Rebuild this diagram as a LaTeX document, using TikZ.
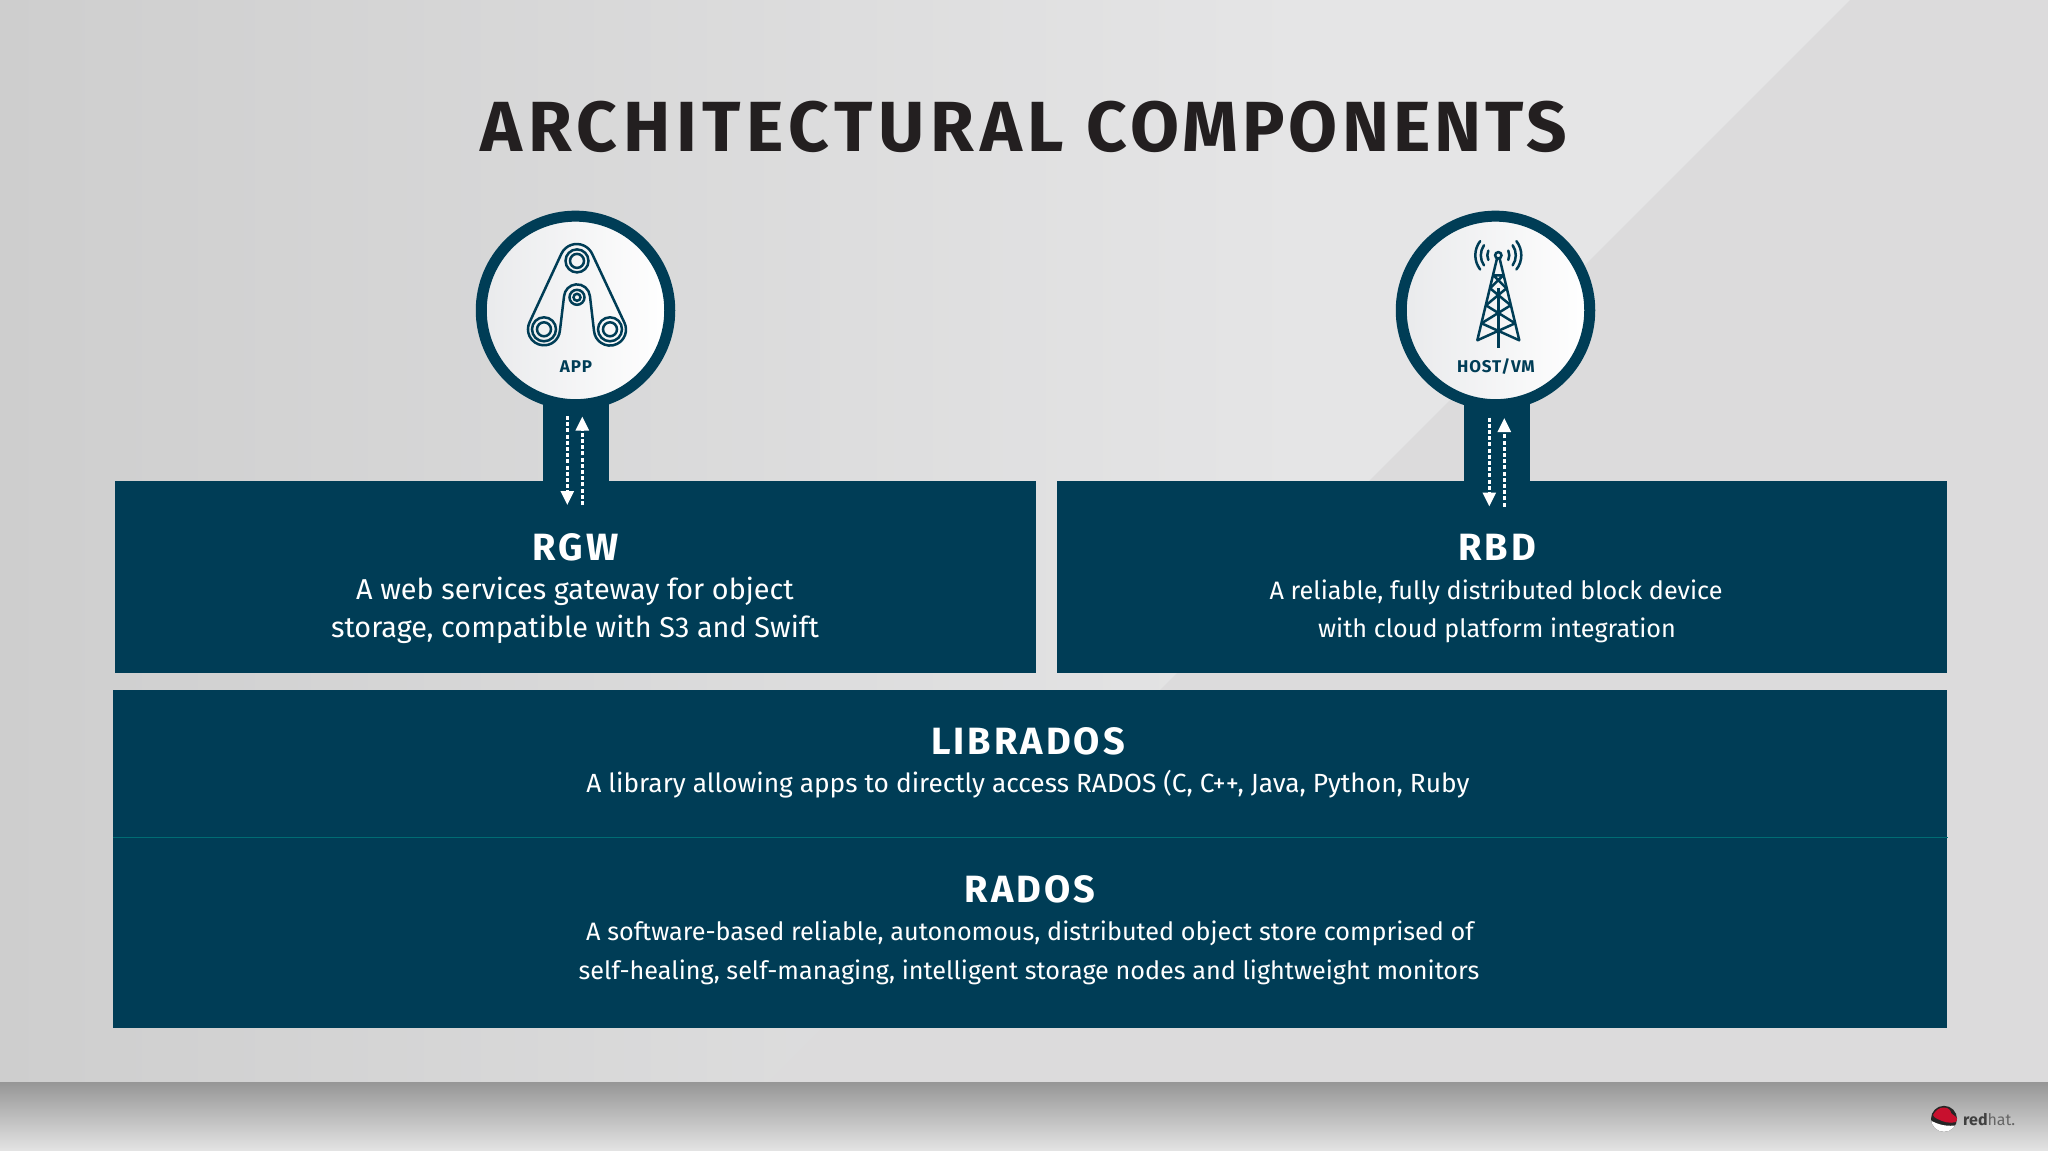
\documentclass[tikz,border=0pt]{standalone}
\usepackage{fontspec}
\setmainfont{Fira Sans}
\usetikzlibrary{arrows.meta}
\definecolor{teal1}{HTML}{003D56}
\definecolor{inktext}{HTML}{231F20}
\definecolor{bgL}{HTML}{CECECE}
\definecolor{bgM}{HTML}{E5E5E6}
\definecolor{bgR}{HTML}{DCDBDC}
\definecolor{footT}{HTML}{969696}
\definecolor{footB}{HTML}{E4E4E4}
\definecolor{discL}{HTML}{E9EAEC}
\definecolor{hatred}{HTML}{C8102E}
\tikzset{
  panel/.style={fill=teal1,draw=none,inner sep=0pt},
  head/.style={text=white,font=\fontsize{38}{38}\selectfont\addfontfeature{LetterSpace=8}\bfseries,anchor=base,inner sep=0pt},
  bodya/.style={text=white,font=\fontsize{28.8}{29}\selectfont,anchor=base,inner sep=0pt},
  bodyb/.style={text=white,font=\fontsize{25.2}{26}\selectfont,anchor=base,inner sep=0pt},
  badge/.style={text=teal1,font=\fontsize{17}{17}\selectfont\addfontfeature{LetterSpace=5}\bfseries,anchor=base,inner sep=0pt},
  flow/.style={draw=white,line width=2.4pt,dash pattern=on 4pt off 2.2pt,-{Triangle[width=13pt,length=14pt,sep=0pt]}},
  icon/.style={draw=teal1,line width=2.5pt,fill=none},
  disc/.style={circle,draw=teal1,line width=11pt,left color=discL,right color=white,minimum size=188.5pt,inner sep=0pt},
}
\begin{document}
\begin{tikzpicture}[x=1pt,y=-1pt]
\useasboundingbox (0,0) rectangle (2048,1151);
% background
\shade[left color=bgL,right color=bgM] (0,0) rectangle (1300,1082);
\fill[bgM] (1299,0) rectangle (2048,1082);
\fill[bgR] (1850,0) -- (2048,0) -- (2048,1082) -- (768,1082) -- cycle;
\shade[top color=footT,bottom color=footB] (0,1082) rectangle (2048,1151);
% panels
\node[panel,minimum width=921.3pt,minimum height=192pt] (rgw) at (575.35,577.3) {};
\node[panel,minimum width=890.6pt,minimum height=192pt] (rbd) at (1502,577.3) {};
\node[panel,minimum width=1834pt,minimum height=338.3pt] (lib) at (1030.3,859.15) {};
\draw[draw=teal!70!teal1,line width=1.2pt] (lib.west |- 0,837.7) coordinate (divl) -- (lib.east |- 0,837.7) coordinate (divr);
% stems and badges
\node[panel,minimum width=66pt,minimum height=80pt] (stemA) at (576.3,441.5) {};
\node[panel,minimum width=66.3pt,minimum height=80pt] (stemB) at (1496.85,441.5) {};
\node[disc] (appc) at (575.5,310.4) {};
\node[disc] (hostc) at (1495.5,310.4) {};
% arrows
\coordinate (a1s) at (567.3,416); \coordinate (a1e) at (567.3,505);
\coordinate (a2s) at (582.3,505); \coordinate (a2e) at (582.3,416.5);
\coordinate (b1s) at (1489.3,417.5); \coordinate (b1e) at (1489.3,506.5);
\coordinate (b2s) at (1504.3,506.5); \coordinate (b2e) at (1504.3,418);
\draw[flow] (a1s) -- (a1e);
\draw[flow] (a2s) -- (a2e);
\draw[flow] (b1s) -- (b1e);
\draw[flow] (b2s) -- (b2e);
% app icon
\begin{scope}[shift={(577,297.3)},x=1pt,y=1pt]
  \draw[icon] (-15.6,43.6) arc[start angle=154.5,end angle=25.5,radius=17pt]
     -- (47.4,-25.4) arc[start angle=25.5,end angle=-175,radius=16pt]
     -- (12.95,1.1) arc[start angle=5,end angle=175,radius=13pt]
     -- (-17.1,-33.4) arc[start angle=-5,end angle=-205.5,radius=16pt] -- cycle;
  \draw[icon] (0,36.4) circle[radius=11.5pt] (0,36.4) circle[radius=7pt];
  \draw[icon] (-33,-32) circle[radius=12pt] (-33,-32) circle[radius=7pt];
  \draw[icon] (33,-32) circle[radius=12pt] (33,-32) circle[radius=7pt];
  \draw[icon] (0,0) circle[radius=7.5pt] (0,0) circle[radius=3.5pt];
\end{scope}
% tower icon
\begin{scope}[shift={(1498.3,255.3)},x=1pt,y=1pt]
  \draw[icon] (0,0) circle[radius=3.2pt];
  \draw[icon,line cap=round] (-21,-85) -- (-1.5,-4) (21,-85) -- (1.5,-4);
  \draw[icon] (0,-33) -- (0,-93);
  \draw[icon] (-4.9,-20) -- (4.9,-20)
     (-4.9,-20) -- (8.2,-33) (4.9,-20) -- (-8.2,-33)
     (-8.2,-33) -- (12.4,-50) (8.2,-33) -- (-12.4,-50)
     (-12.4,-50) -- (16.8,-68) (12.4,-50) -- (-16.8,-68)
     (-16.8,-68) -- (21,-85) (16.8,-68) -- (-21,-85);
  \draw[icon,line cap=round] (155:11pt) arc[start angle=155,end angle=205,radius=11pt];
  \draw[icon,line cap=round] (25:11pt) arc[start angle=25,end angle=-25,radius=11pt];
  \draw[icon,line cap=round] (145:17.5pt) arc[start angle=145,end angle=215,radius=17.5pt];
  \draw[icon,line cap=round] (35:17.5pt) arc[start angle=35,end angle=-35,radius=17.5pt];
  \draw[icon,line cap=round] (142:23pt) arc[start angle=142,end angle=218,radius=23pt];
  \draw[icon,line cap=round] (38:23pt) arc[start angle=38,end angle=-38,radius=23pt];
\end{scope}
% texts
\node[text=inktext,font=\fontsize{71}{71}\selectfont\bfseries,anchor=base,inner sep=0pt] (title) at (1024,151) {\addfontfeature{LetterSpace=8}ARCHITECTURAL {\addfontfeature{LetterSpace=5.7}COMPONENTS}};
\node[badge] (appl) at (576,372) {APP};
\node[badge] (hostl) at (1496,372) {HOST/VM};
\node[head] (t1) at (575.5,560) {RGW};
\node[bodya] (t1a) at (575,599) {A web services gateway for object};
\node[bodya] (t1b) at (575,637) {storage, compatible with S3 and Swift};
\node[head] (t2) at (1497,560) {RBD};
\node[bodyb] (t2a) at (1496,599) {A reliable, fully distributed block device};
\node[bodyb] (t2b) at (1497,637) {with cloud platform integration};
\node[head] (t3) at (1028,754) {LIBRADOS};
\node[bodyb,font=\fontsize{26.3}{27}\selectfont] (t3a) at (1028,792) {A library allowing apps to directly access RADOS (C, C++, Java, Python, Ruby};
\node[head] (t4) at (1030,902) {RADOS};
\node[bodyb] (t4a) at (1030,940) {A software-based reliable, autonomous, distributed object store comprised of};
\node[bodyb] (t4b) at (1029,979) {self-healing, self-managing, intelligent storage nodes and lightweight monitors};
% logo
\fill[black!85] (1944,1118.8) circle[radius=13pt];
\begin{scope}
  \clip (1944,1118.8) circle[radius=13pt];
  \fill[white] (1930,1120) .. controls (1938,1125) and (1948,1127) .. (1958,1125) -- (1958,1133) -- (1930,1133) -- cycle;
  \fill[hatred] (1933,1115) .. controls (1936,1110) and (1939,1107.5) .. (1944,1107.5) .. controls (1949,1107.5) and (1951,1111) .. (1951,1113) .. controls (1953,1115) and (1957,1117) .. (1958,1120) .. controls (1956,1124) and (1947,1123) .. (1942,1121) .. controls (1938,1119) and (1934,1118) .. (1933,1115) -- cycle;
\end{scope}
\node[text=black!75,font=\fontsize{16}{16}\selectfont,anchor=base west,inner sep=0pt] (logo) at (1963,1125) {\textbf{red}\textcolor{black!60}{hat.}};
\end{tikzpicture}
\end{document}
